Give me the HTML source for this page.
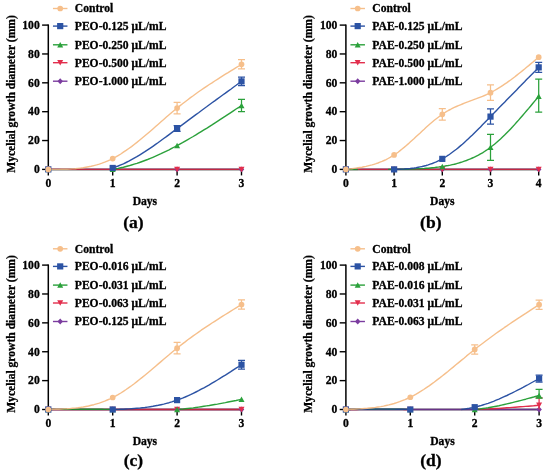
<!DOCTYPE html>
<html><head><meta charset="utf-8"><title>Mycelial growth</title>
<style>html,body{margin:0;padding:0;background:#fff}svg{display:block;font-family:"Liberation Serif",serif}</style>
</head><body>
<svg width="550" height="476" viewBox="0 0 550 476">
<rect width="550" height="476" fill="#fff"/>
<g stroke="#000" stroke-width="1.5" fill="none" stroke-linecap="butt">
<line x1="48.30" y1="24.40" x2="48.30" y2="170.15"/>
<line x1="47.55" y1="169.40" x2="242.20" y2="169.40"/>
</g>
<g stroke="#000" stroke-width="1.4" fill="none">
<line x1="42.10" y1="169.40" x2="48.30" y2="169.40"/>
<line x1="42.10" y1="140.54" x2="48.30" y2="140.54"/>
<line x1="42.10" y1="111.68" x2="48.30" y2="111.68"/>
<line x1="42.10" y1="82.82" x2="48.30" y2="82.82"/>
<line x1="42.10" y1="53.96" x2="48.30" y2="53.96"/>
<line x1="42.10" y1="25.10" x2="48.30" y2="25.10"/>
<line x1="48.30" y1="169.40" x2="48.30" y2="175.40"/>
<line x1="112.70" y1="169.40" x2="112.70" y2="175.40"/>
<line x1="177.10" y1="169.40" x2="177.10" y2="175.40"/>
<line x1="241.50" y1="169.40" x2="241.50" y2="175.40"/>
</g>
<g font-size="11.6" font-weight="bold" fill="#000" stroke="#000" stroke-width="0.3">
<text x="39.70" y="173.20" text-anchor="end">0</text>
<text x="39.70" y="144.34" text-anchor="end">20</text>
<text x="39.70" y="115.48" text-anchor="end">40</text>
<text x="39.70" y="86.62" text-anchor="end">60</text>
<text x="39.70" y="57.76" text-anchor="end">80</text>
<text x="39.70" y="28.90" text-anchor="end">100</text>
<text x="48.30" y="187.30" text-anchor="middle">0</text>
<text x="112.70" y="187.30" text-anchor="middle">1</text>
<text x="177.10" y="187.30" text-anchor="middle">2</text>
<text x="241.50" y="187.30" text-anchor="middle">3</text>
<text x="144.90" y="204.70" text-anchor="middle">Days</text>
<text transform="translate(14.70,93.95) rotate(-90)" text-anchor="middle">Mycelial growth diameter (mm)</text>
</g>
<text x="133.40" y="228.00" text-anchor="middle" font-size="17.5" font-weight="bold" stroke="#000" stroke-width="0.3">(a)</text>
<path d="M48.30,169.40 H241.50" fill="none" stroke="#7B3C9F" stroke-width="1.4"/>
<path d="M48.30,169.40 H241.50" fill="none" stroke="#E22E4D" stroke-width="1.4"/>
<path d="M112.7,169.4 L115.4,168.9 L118.1,168.4 L120.8,167.8 L123.4,167.2 L126.1,166.5 L128.8,165.8 L131.5,165.0 L134.2,164.2 L136.9,163.4 L139.5,162.5 L142.2,161.5 L144.9,160.5 L147.6,159.5 L150.3,158.4 L152.9,157.3 L155.6,156.1 L158.3,154.9 L161.0,153.7 L163.7,152.4 L166.4,151.1 L169.1,149.8 L171.7,148.4 L174.4,147.0 L177.1,145.6 L179.8,144.1 L182.5,142.7 L185.2,141.1 L187.8,139.6 L190.5,138.0 L193.2,136.5 L195.9,134.9 L198.6,133.2 L201.2,131.6 L203.9,129.9 L206.6,128.3 L209.3,126.6 L212.0,124.9 L214.7,123.1 L217.4,121.4 L220.0,119.7 L222.7,117.9 L225.4,116.2 L228.1,114.4 L230.8,112.6 L233.4,110.8 L236.1,109.0 L238.8,107.3 L241.5,105.5" fill="none" stroke="#2BA13B" stroke-width="1.4" stroke-linejoin="round"/>
<path d="M110.0,168.8 L112.7,168.0 L115.4,167.0 L118.1,166.0 L120.8,164.9 L123.4,163.8 L126.1,162.5 L128.8,161.2 L131.5,159.7 L134.2,158.2 L136.9,156.7 L139.5,155.1 L142.2,153.4 L144.9,151.7 L147.6,149.9 L150.3,148.1 L152.9,146.3 L155.6,144.4 L158.3,142.5 L161.0,140.5 L163.7,138.5 L166.4,136.6 L169.1,134.6 L171.7,132.6 L174.4,130.6 L177.1,128.6 L179.8,126.6 L182.5,124.6 L185.2,122.6 L187.8,120.6 L190.5,118.6 L193.2,116.6 L195.9,114.6 L198.6,112.7 L201.2,110.7 L203.9,108.7 L206.6,106.8 L209.3,104.8 L212.0,102.8 L214.7,100.9 L217.4,98.9 L220.0,97.0 L222.7,95.0 L225.4,93.1 L228.1,91.1 L230.8,89.2 L233.4,87.2 L236.1,85.3 L238.8,83.3 L241.5,81.4" fill="none" stroke="#2C53A4" stroke-width="1.4" stroke-linejoin="round"/>
<path d="M48.3,169.4 L51.0,169.4 L53.7,169.4 L56.3,169.4 L59.0,169.4 L61.7,169.3 L64.4,169.3 L67.1,169.2 L69.8,169.1 L72.5,168.9 L75.1,168.7 L77.8,168.4 L80.5,168.1 L83.2,167.8 L85.9,167.3 L88.5,166.8 L91.2,166.3 L93.9,165.6 L96.6,164.9 L99.3,164.1 L102.0,163.2 L104.7,162.2 L107.3,161.1 L110.0,159.9 L112.7,158.6 L115.4,157.2 L118.1,155.6 L120.8,154.0 L123.4,152.2 L126.1,150.4 L128.8,148.5 L131.5,146.6 L134.2,144.5 L136.9,142.4 L139.5,140.2 L142.2,138.0 L144.9,135.8 L147.6,133.5 L150.3,131.2 L152.9,128.9 L155.6,126.5 L158.3,124.2 L161.0,121.8 L163.7,119.5 L166.4,117.1 L169.1,114.8 L171.7,112.5 L174.4,110.3 L177.1,108.1 L179.8,105.9 L182.5,103.8 L185.2,101.7 L187.8,99.7 L190.5,97.6 L193.2,95.7 L195.9,93.7 L198.6,91.8 L201.2,90.0 L203.9,88.1 L206.6,86.3 L209.3,84.5 L212.0,82.8 L214.7,81.0 L217.4,79.3 L220.0,77.6 L222.7,75.9 L225.4,74.2 L228.1,72.6 L230.8,70.9 L233.4,69.3 L236.1,67.6 L238.8,66.0 L241.5,64.3" fill="none" stroke="#F6BF8B" stroke-width="1.4" stroke-linejoin="round"/>
<path d="M51.30,169.40 H241.50" stroke="#000" stroke-opacity="0.14" stroke-width="1.6" fill="none"/>
<polygon points="48.30,166.45 51.05,169.40 48.30,172.35 45.55,169.40" fill="#7B3C9F"/>
<polygon points="112.70,166.45 115.45,169.40 112.70,172.35 109.95,169.40" fill="#7B3C9F"/>
<polygon points="177.10,166.45 179.85,169.40 177.10,172.35 174.35,169.40" fill="#7B3C9F"/>
<polygon points="241.50,166.45 244.25,169.40 241.50,172.35 238.75,169.40" fill="#7B3C9F"/>
<polygon points="48.30,172.20 51.30,166.70 45.30,166.70" fill="#E22E4D"/>
<polygon points="112.70,172.20 115.70,166.70 109.70,166.70" fill="#E22E4D"/>
<polygon points="177.10,172.20 180.10,166.70 174.10,166.70" fill="#E22E4D"/>
<polygon points="241.50,172.20 244.50,166.70 238.50,166.70" fill="#E22E4D"/>
<path d="M241.50,99.41 V111.54 M238.00,99.41 h7 M238.00,111.54 h7" stroke="#2BA13B" stroke-width="1.25" fill="none"/>
<polygon points="48.30,166.60 51.30,172.10 45.30,172.10" fill="#2BA13B"/>
<polygon points="112.70,166.60 115.70,172.10 109.70,172.10" fill="#2BA13B"/>
<polygon points="177.10,142.79 180.10,148.29 174.10,148.29" fill="#2BA13B"/>
<polygon points="241.50,102.68 244.50,108.18 238.50,108.18" fill="#2BA13B"/>
<path d="M177.10,125.68 V131.45 M173.60,125.68 h7 M173.60,131.45 h7" stroke="#2C53A4" stroke-width="1.25" fill="none"/>
<path d="M241.50,77.05 V85.71 M238.00,77.05 h7 M238.00,85.71 h7" stroke="#2C53A4" stroke-width="1.25" fill="none"/>
<rect x="45.20" y="166.30" width="6.2" height="6.2" fill="#2C53A4"/>
<rect x="109.60" y="164.86" width="6.2" height="6.2" fill="#2C53A4"/>
<rect x="174.00" y="125.46" width="6.2" height="6.2" fill="#2C53A4"/>
<rect x="238.40" y="78.28" width="6.2" height="6.2" fill="#2C53A4"/>
<path d="M177.10,102.30 V113.84 M173.60,102.30 h7 M173.60,113.84 h7" stroke="#F6BF8B" stroke-width="1.25" fill="none"/>
<path d="M241.50,59.73 V68.97 M238.00,59.73 h7 M238.00,68.97 h7" stroke="#F6BF8B" stroke-width="1.25" fill="none"/>
<circle cx="48.30" cy="169.40" r="2.85" fill="#F6BF8B"/>
<circle cx="112.70" cy="158.58" r="2.85" fill="#F6BF8B"/>
<circle cx="177.10" cy="108.07" r="2.85" fill="#F6BF8B"/>
<circle cx="241.50" cy="64.35" r="2.85" fill="#F6BF8B"/>
<g font-size="11.6" font-weight="bold" fill="#000">
<line x1="52.95" y1="8.50" x2="67.45" y2="8.50" stroke="#F6BF8B" stroke-width="1.4"/>
<circle cx="60.20" cy="8.50" r="2.85" fill="#F6BF8B"/>
<text x="74.80" y="12.40" stroke="#000" stroke-width="0.3">Control</text>
<line x1="52.95" y1="26.10" x2="67.45" y2="26.10" stroke="#2C53A4" stroke-width="1.4"/>
<rect x="57.10" y="23.00" width="6.2" height="6.2" fill="#2C53A4"/>
<text x="74.80" y="30.00" stroke="#000" stroke-width="0.3">PEO-0.125 μL/mL</text>
<line x1="52.95" y1="44.80" x2="67.45" y2="44.80" stroke="#2BA13B" stroke-width="1.4"/>
<polygon points="60.20,42.00 63.20,47.50 57.20,47.50" fill="#2BA13B"/>
<text x="74.80" y="48.70" stroke="#000" stroke-width="0.3">PEO-0.250 μL/mL</text>
<line x1="52.95" y1="62.70" x2="67.45" y2="62.70" stroke="#E22E4D" stroke-width="1.4"/>
<polygon points="60.20,65.50 63.20,60.00 57.20,60.00" fill="#E22E4D"/>
<text x="74.80" y="66.60" stroke="#000" stroke-width="0.3">PEO-0.500 μL/mL</text>
<line x1="52.95" y1="81.20" x2="67.45" y2="81.20" stroke="#7B3C9F" stroke-width="1.4"/>
<polygon points="60.20,78.25 62.95,81.20 60.20,84.15 57.45,81.20" fill="#7B3C9F"/>
<text x="74.80" y="85.10" stroke="#000" stroke-width="0.3">PEO-1.000 μL/mL</text>
</g>
<g stroke="#000" stroke-width="1.5" fill="none" stroke-linecap="butt">
<line x1="345.90" y1="24.40" x2="345.90" y2="170.15"/>
<line x1="345.15" y1="169.40" x2="539.40" y2="169.40"/>
</g>
<g stroke="#000" stroke-width="1.4" fill="none">
<line x1="339.70" y1="169.40" x2="345.90" y2="169.40"/>
<line x1="339.70" y1="140.54" x2="345.90" y2="140.54"/>
<line x1="339.70" y1="111.68" x2="345.90" y2="111.68"/>
<line x1="339.70" y1="82.82" x2="345.90" y2="82.82"/>
<line x1="339.70" y1="53.96" x2="345.90" y2="53.96"/>
<line x1="339.70" y1="25.10" x2="345.90" y2="25.10"/>
<line x1="345.90" y1="169.40" x2="345.90" y2="175.40"/>
<line x1="394.10" y1="169.40" x2="394.10" y2="175.40"/>
<line x1="442.30" y1="169.40" x2="442.30" y2="175.40"/>
<line x1="490.50" y1="169.40" x2="490.50" y2="175.40"/>
<line x1="538.70" y1="169.40" x2="538.70" y2="175.40"/>
</g>
<g font-size="11.6" font-weight="bold" fill="#000" stroke="#000" stroke-width="0.3">
<text x="337.30" y="173.20" text-anchor="end">0</text>
<text x="337.30" y="144.34" text-anchor="end">20</text>
<text x="337.30" y="115.48" text-anchor="end">40</text>
<text x="337.30" y="86.62" text-anchor="end">60</text>
<text x="337.30" y="57.76" text-anchor="end">80</text>
<text x="337.30" y="28.90" text-anchor="end">100</text>
<text x="345.90" y="187.30" text-anchor="middle">0</text>
<text x="394.10" y="187.30" text-anchor="middle">1</text>
<text x="442.30" y="187.30" text-anchor="middle">2</text>
<text x="490.50" y="187.30" text-anchor="middle">3</text>
<text x="538.70" y="187.30" text-anchor="middle">4</text>
<text x="442.30" y="204.70" text-anchor="middle">Days</text>
<text transform="translate(312.30,93.95) rotate(-90)" text-anchor="middle">Mycelial growth diameter (mm)</text>
</g>
<text x="430.80" y="228.00" text-anchor="middle" font-size="17.5" font-weight="bold" stroke="#000" stroke-width="0.3">(b)</text>
<path d="M345.90,169.40 H538.70" fill="none" stroke="#7B3C9F" stroke-width="1.4"/>
<path d="M345.90,169.40 H538.70" fill="none" stroke="#E22E4D" stroke-width="1.4"/>
<path d="M345.9,169.4 L347.9,169.4 L349.9,169.4 L351.9,169.4 L353.9,169.4 L355.9,169.4 L357.9,169.4" fill="none" stroke="#2BA13B" stroke-width="1.4" stroke-linejoin="round"/>
<path d="M388.1,169.4 L390.1,169.4 L392.1,169.4 L394.1,169.4 L396.1,169.4 L398.1,169.4 L400.1,169.3 L402.1,169.3 L404.1,169.3 L406.1,169.2 L408.2,169.2 L410.2,169.1 L412.2,169.1 L414.2,169.0 L416.2,168.9 L418.2,168.8 L420.2,168.7 L422.2,168.6 L424.2,168.5 L426.2,168.3 L428.2,168.2 L430.2,168.0 L432.3,167.8 L434.3,167.6 L436.3,167.3 L438.3,167.1 L440.3,166.8 L442.3,166.5 L444.3,166.2 L446.3,165.8 L448.3,165.5 L450.3,165.1 L452.3,164.6 L454.3,164.2 L456.4,163.7 L458.4,163.1 L460.4,162.5 L462.4,161.9 L464.4,161.2 L466.4,160.5 L468.4,159.7 L470.4,158.9 L472.4,158.0 L474.4,157.1 L476.4,156.1 L478.4,155.1 L480.5,153.9 L482.5,152.8 L484.5,151.5 L486.5,150.2 L488.5,148.8 L490.5,147.3 L492.5,145.8 L494.5,144.2 L496.5,142.5 L498.5,140.7 L500.5,138.9 L502.5,137.0 L504.6,135.0 L506.6,133.0 L508.6,131.0 L510.6,128.9 L512.6,126.8 L514.6,124.6 L516.6,122.3 L518.6,120.1 L520.6,117.8 L522.6,115.5 L524.6,113.1 L526.6,110.8 L528.7,108.4 L530.7,106.0 L532.7,103.5 L534.7,101.1 L536.7,98.7 L538.7,96.2" fill="none" stroke="#2BA13B" stroke-width="1.4" stroke-linejoin="round"/>
<path d="M345.9,169.4 L347.9,169.4" fill="none" stroke="#2C53A4" stroke-width="1.4" stroke-linejoin="round"/>
<path d="M394.1,169.4 L396.1,169.3 L398.1,169.3 L400.1,169.2 L402.1,169.1 L404.1,169.0 L406.1,168.8 L408.2,168.7 L410.2,168.5 L412.2,168.2 L414.2,168.0 L416.2,167.7 L418.2,167.3 L420.2,166.9 L422.2,166.5 L424.2,166.0 L426.2,165.5 L428.2,164.9 L430.2,164.2 L432.3,163.5 L434.3,162.7 L436.3,161.9 L438.3,160.9 L440.3,159.9 L442.3,158.9 L444.3,157.7 L446.3,156.5 L448.3,155.2 L450.3,153.8 L452.3,152.3 L454.3,150.8 L456.4,149.2 L458.4,147.6 L460.4,145.9 L462.4,144.2 L464.4,142.4 L466.4,140.6 L468.4,138.7 L470.4,136.8 L472.4,134.9 L474.4,132.9 L476.4,130.9 L478.4,128.9 L480.5,126.9 L482.5,124.8 L484.5,122.8 L486.5,120.7 L488.5,118.7 L490.5,116.6 L492.5,114.5 L494.5,112.5 L496.5,110.4 L498.5,108.3 L500.5,106.3 L502.5,104.2 L504.6,102.2 L506.6,100.1 L508.6,98.0 L510.6,96.0 L512.6,93.9 L514.6,91.9 L516.6,89.9 L518.6,87.8 L520.6,85.8 L522.6,83.7 L524.6,81.7 L526.6,79.6 L528.7,77.6 L530.7,75.5 L532.7,73.5 L534.7,71.5 L536.7,69.4 L538.7,67.4" fill="none" stroke="#2C53A4" stroke-width="1.4" stroke-linejoin="round"/>
<path d="M345.9,169.4 L347.9,169.2 L349.9,168.9 L351.9,168.7 L353.9,168.4 L355.9,168.1 L357.9,167.8 L360.0,167.5 L362.0,167.2 L364.0,166.8 L366.0,166.4 L368.0,165.9 L370.0,165.4 L372.0,164.9 L374.0,164.3 L376.0,163.7 L378.0,163.0 L380.0,162.2 L382.0,161.4 L384.1,160.5 L386.1,159.6 L388.1,158.5 L390.1,157.4 L392.1,156.2 L394.1,155.0 L396.1,153.6 L398.1,152.2 L400.1,150.6 L402.1,149.0 L404.1,147.4 L406.1,145.7 L408.2,143.9 L410.2,142.1 L412.2,140.3 L414.2,138.5 L416.2,136.6 L418.2,134.7 L420.2,132.9 L422.2,131.0 L424.2,129.2 L426.2,127.3 L428.2,125.5 L430.2,123.8 L432.3,122.0 L434.3,120.3 L436.3,118.7 L438.3,117.2 L440.3,115.7 L442.3,114.3 L444.3,113.0 L446.3,111.7 L448.3,110.5 L450.3,109.5 L452.3,108.4 L454.3,107.4 L456.4,106.5 L458.4,105.6 L460.4,104.8 L462.4,104.0 L464.4,103.2 L466.4,102.4 L468.4,101.7 L470.4,100.9 L472.4,100.2 L474.4,99.4 L476.4,98.7 L478.4,97.9 L480.5,97.1 L482.5,96.3 L484.5,95.5 L486.5,94.6 L488.5,93.6 L490.5,92.6 L492.5,91.6 L494.5,90.5 L496.5,89.3 L498.5,88.1 L500.5,86.9 L502.5,85.6 L504.6,84.2 L506.6,82.9 L508.6,81.4 L510.6,80.0 L512.6,78.5 L514.6,77.0 L516.6,75.4 L518.6,73.8 L520.6,72.2 L522.6,70.6 L524.6,69.0 L526.6,67.3 L528.7,65.6 L530.7,63.9 L532.7,62.3 L534.7,60.6 L536.7,58.8 L538.7,57.1" fill="none" stroke="#F6BF8B" stroke-width="1.4" stroke-linejoin="round"/>
<path d="M348.90,169.40 H538.70" stroke="#000" stroke-opacity="0.14" stroke-width="1.6" fill="none"/>
<polygon points="345.90,166.45 348.65,169.40 345.90,172.35 343.15,169.40" fill="#7B3C9F"/>
<polygon points="394.10,166.45 396.85,169.40 394.10,172.35 391.35,169.40" fill="#7B3C9F"/>
<polygon points="442.30,166.45 445.05,169.40 442.30,172.35 439.55,169.40" fill="#7B3C9F"/>
<polygon points="490.50,166.45 493.25,169.40 490.50,172.35 487.75,169.40" fill="#7B3C9F"/>
<polygon points="538.70,166.45 541.45,169.40 538.70,172.35 535.95,169.40" fill="#7B3C9F"/>
<polygon points="345.90,172.20 348.90,166.70 342.90,166.70" fill="#E22E4D"/>
<polygon points="394.10,172.20 397.10,166.70 391.10,166.70" fill="#E22E4D"/>
<polygon points="442.30,172.20 445.30,166.70 439.30,166.70" fill="#E22E4D"/>
<polygon points="490.50,172.20 493.50,166.70 487.50,166.70" fill="#E22E4D"/>
<polygon points="538.70,172.20 541.70,166.70 535.70,166.70" fill="#E22E4D"/>
<path d="M490.50,134.34 V160.31 M487.00,134.34 h7 M487.00,160.31 h7" stroke="#2BA13B" stroke-width="1.25" fill="none"/>
<path d="M538.70,79.07 V112.11 M535.20,79.07 h7 M535.20,112.11 h7" stroke="#2BA13B" stroke-width="1.25" fill="none"/>
<polygon points="345.90,166.60 348.90,172.10 342.90,172.10" fill="#2BA13B"/>
<polygon points="394.10,166.60 397.10,172.10 391.10,172.10" fill="#2BA13B"/>
<polygon points="442.30,163.71 445.30,169.21 439.30,169.21" fill="#2BA13B"/>
<polygon points="490.50,144.52 493.50,150.02 487.50,150.02" fill="#2BA13B"/>
<polygon points="538.70,93.44 541.70,98.94 535.70,98.94" fill="#2BA13B"/>
<path d="M490.50,108.94 V124.23 M487.00,108.94 h7 M487.00,124.23 h7" stroke="#2C53A4" stroke-width="1.25" fill="none"/>
<path d="M538.70,62.33 V72.43 M535.20,62.33 h7 M535.20,72.43 h7" stroke="#2C53A4" stroke-width="1.25" fill="none"/>
<rect x="342.80" y="166.30" width="6.2" height="6.2" fill="#2C53A4"/>
<rect x="391.00" y="166.30" width="6.2" height="6.2" fill="#2C53A4"/>
<rect x="439.20" y="155.77" width="6.2" height="6.2" fill="#2C53A4"/>
<rect x="487.40" y="113.49" width="6.2" height="6.2" fill="#2C53A4"/>
<rect x="535.60" y="64.28" width="6.2" height="6.2" fill="#2C53A4"/>
<path d="M442.30,108.51 V120.05 M438.80,108.51 h7 M438.80,120.05 h7" stroke="#F6BF8B" stroke-width="1.25" fill="none"/>
<path d="M490.50,84.84 V100.42 M487.00,84.84 h7 M487.00,100.42 h7" stroke="#F6BF8B" stroke-width="1.25" fill="none"/>
<circle cx="345.90" cy="169.40" r="2.85" fill="#F6BF8B"/>
<circle cx="394.10" cy="154.97" r="2.85" fill="#F6BF8B"/>
<circle cx="442.30" cy="114.28" r="2.85" fill="#F6BF8B"/>
<circle cx="490.50" cy="92.63" r="2.85" fill="#F6BF8B"/>
<circle cx="538.70" cy="57.13" r="2.85" fill="#F6BF8B"/>
<g font-size="11.6" font-weight="bold" fill="#000">
<line x1="350.45" y1="8.50" x2="364.95" y2="8.50" stroke="#F6BF8B" stroke-width="1.4"/>
<circle cx="357.70" cy="8.50" r="2.85" fill="#F6BF8B"/>
<text x="372.30" y="12.40" stroke="#000" stroke-width="0.3">Control</text>
<line x1="350.45" y1="26.10" x2="364.95" y2="26.10" stroke="#2C53A4" stroke-width="1.4"/>
<rect x="354.60" y="23.00" width="6.2" height="6.2" fill="#2C53A4"/>
<text x="372.30" y="30.00" stroke="#000" stroke-width="0.3">PAE-0.125 μL/mL</text>
<line x1="350.45" y1="44.80" x2="364.95" y2="44.80" stroke="#2BA13B" stroke-width="1.4"/>
<polygon points="357.70,42.00 360.70,47.50 354.70,47.50" fill="#2BA13B"/>
<text x="372.30" y="48.70" stroke="#000" stroke-width="0.3">PAE-0.250 μL/mL</text>
<line x1="350.45" y1="62.70" x2="364.95" y2="62.70" stroke="#E22E4D" stroke-width="1.4"/>
<polygon points="357.70,65.50 360.70,60.00 354.70,60.00" fill="#E22E4D"/>
<text x="372.30" y="66.60" stroke="#000" stroke-width="0.3">PAE-0.500 μL/mL</text>
<line x1="350.45" y1="81.20" x2="364.95" y2="81.20" stroke="#7B3C9F" stroke-width="1.4"/>
<polygon points="357.70,78.25 360.45,81.20 357.70,84.15 354.95,81.20" fill="#7B3C9F"/>
<text x="372.30" y="85.10" stroke="#000" stroke-width="0.3">PAE-1.000 μL/mL</text>
</g>
<g stroke="#000" stroke-width="1.5" fill="none" stroke-linecap="butt">
<line x1="48.30" y1="264.40" x2="48.30" y2="410.25"/>
<line x1="47.55" y1="409.50" x2="242.20" y2="409.50"/>
</g>
<g stroke="#000" stroke-width="1.4" fill="none">
<line x1="42.10" y1="409.50" x2="48.30" y2="409.50"/>
<line x1="42.10" y1="380.62" x2="48.30" y2="380.62"/>
<line x1="42.10" y1="351.74" x2="48.30" y2="351.74"/>
<line x1="42.10" y1="322.86" x2="48.30" y2="322.86"/>
<line x1="42.10" y1="293.98" x2="48.30" y2="293.98"/>
<line x1="42.10" y1="265.10" x2="48.30" y2="265.10"/>
<line x1="48.30" y1="409.50" x2="48.30" y2="415.50"/>
<line x1="112.70" y1="409.50" x2="112.70" y2="415.50"/>
<line x1="177.10" y1="409.50" x2="177.10" y2="415.50"/>
<line x1="241.50" y1="409.50" x2="241.50" y2="415.50"/>
</g>
<g font-size="11.6" font-weight="bold" fill="#000" stroke="#000" stroke-width="0.3">
<text x="39.70" y="413.30" text-anchor="end">0</text>
<text x="39.70" y="384.42" text-anchor="end">20</text>
<text x="39.70" y="355.54" text-anchor="end">40</text>
<text x="39.70" y="326.66" text-anchor="end">60</text>
<text x="39.70" y="297.78" text-anchor="end">80</text>
<text x="39.70" y="268.90" text-anchor="end">100</text>
<text x="48.30" y="427.40" text-anchor="middle">0</text>
<text x="112.70" y="427.40" text-anchor="middle">1</text>
<text x="177.10" y="427.40" text-anchor="middle">2</text>
<text x="241.50" y="427.40" text-anchor="middle">3</text>
<text x="144.90" y="444.80" text-anchor="middle">Days</text>
<text transform="translate(14.70,334.00) rotate(-90)" text-anchor="middle">Mycelial growth diameter (mm)</text>
</g>
<text x="133.40" y="466.00" text-anchor="middle" font-size="17.5" font-weight="bold" stroke="#000" stroke-width="0.3">(c)</text>
<path d="M48.30,409.50 H241.50" fill="none" stroke="#7B3C9F" stroke-width="1.4"/>
<path d="M48.30,409.50 H241.50" fill="none" stroke="#E22E4D" stroke-width="1.4"/>
<path d="M48.3,409.5 L51.0,409.5 L53.7,409.4 L56.3,409.4 L59.0,409.4 L61.7,409.4 L64.4,409.3 L67.1,409.3 L69.8,409.3 L72.5,409.3 L75.1,409.3 L77.8,409.3 L80.5,409.2 L83.2,409.2 L85.9,409.2 L88.5,409.2 L91.2,409.3 L93.9,409.3 L96.6,409.3 L99.3,409.3 L102.0,409.3 L104.7,409.4 L107.3,409.4 L110.0,409.4 L112.7,409.5" fill="none" stroke="#2BA13B" stroke-width="1.4" stroke-linejoin="round"/>
<path d="M177.1,409.5 L179.8,409.3 L182.5,409.1 L185.2,408.8 L187.8,408.5 L190.5,408.2 L193.2,407.9 L195.9,407.5 L198.6,407.1 L201.2,406.7 L203.9,406.3 L206.6,405.9 L209.3,405.5 L212.0,405.0 L214.7,404.5 L217.4,404.1 L220.0,403.6 L222.7,403.1 L225.4,402.6 L228.1,402.0 L230.8,401.5 L233.4,401.0 L236.1,400.5 L238.8,399.9 L241.5,399.4" fill="none" stroke="#2BA13B" stroke-width="1.4" stroke-linejoin="round"/>
<path d="M48.3,409.5 L51.0,409.5" fill="none" stroke="#2C53A4" stroke-width="1.4" stroke-linejoin="round"/>
<path d="M112.7,409.5 L115.4,409.4 L118.1,409.4 L120.8,409.3 L123.4,409.2 L126.1,409.0 L128.8,408.9 L131.5,408.7 L134.2,408.5 L136.9,408.3 L139.5,408.1 L142.2,407.8 L144.9,407.5 L147.6,407.1 L150.3,406.7 L152.9,406.3 L155.6,405.8 L158.3,405.3 L161.0,404.7 L163.7,404.1 L166.4,403.4 L169.1,402.7 L171.7,401.9 L174.4,401.0 L177.1,400.1 L179.8,399.1 L182.5,398.1 L185.2,397.0 L187.8,395.8 L190.5,394.6 L193.2,393.3 L195.9,392.0 L198.6,390.7 L201.2,389.2 L203.9,387.8 L206.6,386.3 L209.3,384.8 L212.0,383.2 L214.7,381.6 L217.4,380.0 L220.0,378.4 L222.7,376.7 L225.4,375.1 L228.1,373.4 L230.8,371.7 L233.4,369.9 L236.1,368.2 L238.8,366.5 L241.5,364.7" fill="none" stroke="#2C53A4" stroke-width="1.4" stroke-linejoin="round"/>
<path d="M48.3,409.5 L51.0,409.4 L53.7,409.4 L56.3,409.3 L59.0,409.2 L61.7,409.1 L64.4,408.9 L67.1,408.8 L69.8,408.6 L72.5,408.3 L75.1,408.1 L77.8,407.8 L80.5,407.4 L83.2,407.0 L85.9,406.5 L88.5,406.0 L91.2,405.3 L93.9,404.7 L96.6,403.9 L99.3,403.1 L102.0,402.1 L104.7,401.1 L107.3,400.0 L110.0,398.8 L112.7,397.5 L115.4,396.1 L118.1,394.6 L120.8,393.0 L123.4,391.3 L126.1,389.5 L128.8,387.6 L131.5,385.7 L134.2,383.7 L136.9,381.6 L139.5,379.5 L142.2,377.4 L144.9,375.2 L147.6,373.0 L150.3,370.7 L152.9,368.5 L155.6,366.2 L158.3,363.9 L161.0,361.6 L163.7,359.3 L166.4,357.0 L169.1,354.8 L171.7,352.5 L174.4,350.3 L177.1,348.1 L179.8,346.0 L182.5,343.9 L185.2,341.9 L187.8,339.8 L190.5,337.9 L193.2,335.9 L195.9,334.0 L198.6,332.1 L201.2,330.2 L203.9,328.4 L206.6,326.6 L209.3,324.8 L212.0,323.0 L214.7,321.3 L217.4,319.6 L220.0,317.9 L222.7,316.2 L225.4,314.5 L228.1,312.8 L230.8,311.1 L233.4,309.5 L236.1,307.8 L238.8,306.2 L241.5,304.5" fill="none" stroke="#F6BF8B" stroke-width="1.4" stroke-linejoin="round"/>
<path d="M51.30,409.50 H241.50" stroke="#000" stroke-opacity="0.14" stroke-width="1.6" fill="none"/>
<polygon points="48.30,406.55 51.05,409.50 48.30,412.45 45.55,409.50" fill="#7B3C9F"/>
<polygon points="112.70,406.55 115.45,409.50 112.70,412.45 109.95,409.50" fill="#7B3C9F"/>
<polygon points="177.10,406.55 179.85,409.50 177.10,412.45 174.35,409.50" fill="#7B3C9F"/>
<polygon points="241.50,406.55 244.25,409.50 241.50,412.45 238.75,409.50" fill="#7B3C9F"/>
<polygon points="48.30,412.30 51.30,406.80 45.30,406.80" fill="#E22E4D"/>
<polygon points="112.70,412.30 115.70,406.80 109.70,406.80" fill="#E22E4D"/>
<polygon points="177.10,412.30 180.10,406.80 174.10,406.80" fill="#E22E4D"/>
<polygon points="241.50,412.30 244.50,406.80 238.50,406.80" fill="#E22E4D"/>
<polygon points="48.30,406.70 51.30,412.20 45.30,412.20" fill="#2BA13B"/>
<polygon points="112.70,406.70 115.70,412.20 109.70,412.20" fill="#2BA13B"/>
<polygon points="177.10,406.70 180.10,412.20 174.10,412.20" fill="#2BA13B"/>
<polygon points="241.50,396.59 244.50,402.09 238.50,402.09" fill="#2BA13B"/>
<path d="M241.50,360.40 V369.07 M238.00,360.40 h7 M238.00,369.07 h7" stroke="#2C53A4" stroke-width="1.25" fill="none"/>
<rect x="45.20" y="406.40" width="6.2" height="6.2" fill="#2C53A4"/>
<rect x="109.60" y="406.40" width="6.2" height="6.2" fill="#2C53A4"/>
<rect x="174.00" y="397.01" width="6.2" height="6.2" fill="#2C53A4"/>
<rect x="238.40" y="361.64" width="6.2" height="6.2" fill="#2C53A4"/>
<path d="M177.10,342.35 V353.91 M173.60,342.35 h7 M173.60,353.91 h7" stroke="#F6BF8B" stroke-width="1.25" fill="none"/>
<path d="M241.50,299.90 V309.14 M238.00,299.90 h7 M238.00,309.14 h7" stroke="#F6BF8B" stroke-width="1.25" fill="none"/>
<circle cx="48.30" cy="409.50" r="2.85" fill="#F6BF8B"/>
<circle cx="112.70" cy="397.51" r="2.85" fill="#F6BF8B"/>
<circle cx="177.10" cy="348.13" r="2.85" fill="#F6BF8B"/>
<circle cx="241.50" cy="304.52" r="2.85" fill="#F6BF8B"/>
<g font-size="11.6" font-weight="bold" fill="#000">
<line x1="52.95" y1="248.80" x2="67.45" y2="248.80" stroke="#F6BF8B" stroke-width="1.4"/>
<circle cx="60.20" cy="248.80" r="2.85" fill="#F6BF8B"/>
<text x="74.80" y="252.70" stroke="#000" stroke-width="0.3">Control</text>
<line x1="52.95" y1="266.40" x2="67.45" y2="266.40" stroke="#2C53A4" stroke-width="1.4"/>
<rect x="57.10" y="263.30" width="6.2" height="6.2" fill="#2C53A4"/>
<text x="74.80" y="270.30" stroke="#000" stroke-width="0.3">PEO-0.016 μL/mL</text>
<line x1="52.95" y1="285.10" x2="67.45" y2="285.10" stroke="#2BA13B" stroke-width="1.4"/>
<polygon points="60.20,282.30 63.20,287.80 57.20,287.80" fill="#2BA13B"/>
<text x="74.80" y="289.00" stroke="#000" stroke-width="0.3">PEO-0.031 μL/mL</text>
<line x1="52.95" y1="303.00" x2="67.45" y2="303.00" stroke="#E22E4D" stroke-width="1.4"/>
<polygon points="60.20,305.80 63.20,300.30 57.20,300.30" fill="#E22E4D"/>
<text x="74.80" y="306.90" stroke="#000" stroke-width="0.3">PEO-0.063 μL/mL</text>
<line x1="52.95" y1="321.50" x2="67.45" y2="321.50" stroke="#7B3C9F" stroke-width="1.4"/>
<polygon points="60.20,318.55 62.95,321.50 60.20,324.45 57.45,321.50" fill="#7B3C9F"/>
<text x="74.80" y="325.40" stroke="#000" stroke-width="0.3">PEO-0.125 μL/mL</text>
</g>
<g stroke="#000" stroke-width="1.5" fill="none" stroke-linecap="butt">
<line x1="345.90" y1="264.40" x2="345.90" y2="410.25"/>
<line x1="345.15" y1="409.50" x2="539.80" y2="409.50"/>
</g>
<g stroke="#000" stroke-width="1.4" fill="none">
<line x1="339.70" y1="409.50" x2="345.90" y2="409.50"/>
<line x1="339.70" y1="380.62" x2="345.90" y2="380.62"/>
<line x1="339.70" y1="351.74" x2="345.90" y2="351.74"/>
<line x1="339.70" y1="322.86" x2="345.90" y2="322.86"/>
<line x1="339.70" y1="293.98" x2="345.90" y2="293.98"/>
<line x1="339.70" y1="265.10" x2="345.90" y2="265.10"/>
<line x1="345.90" y1="409.50" x2="345.90" y2="415.50"/>
<line x1="410.30" y1="409.50" x2="410.30" y2="415.50"/>
<line x1="474.70" y1="409.50" x2="474.70" y2="415.50"/>
<line x1="539.10" y1="409.50" x2="539.10" y2="415.50"/>
</g>
<g font-size="11.6" font-weight="bold" fill="#000" stroke="#000" stroke-width="0.3">
<text x="337.30" y="413.30" text-anchor="end">0</text>
<text x="337.30" y="384.42" text-anchor="end">20</text>
<text x="337.30" y="355.54" text-anchor="end">40</text>
<text x="337.30" y="326.66" text-anchor="end">60</text>
<text x="337.30" y="297.78" text-anchor="end">80</text>
<text x="337.30" y="268.90" text-anchor="end">100</text>
<text x="345.90" y="427.40" text-anchor="middle">0</text>
<text x="410.30" y="427.40" text-anchor="middle">1</text>
<text x="474.70" y="427.40" text-anchor="middle">2</text>
<text x="539.10" y="427.40" text-anchor="middle">3</text>
<text x="442.50" y="444.80" text-anchor="middle">Days</text>
<text transform="translate(312.30,334.00) rotate(-90)" text-anchor="middle">Mycelial growth diameter (mm)</text>
</g>
<text x="431.00" y="466.00" text-anchor="middle" font-size="17.5" font-weight="bold" stroke="#000" stroke-width="0.3">(d)</text>
<path d="M345.90,409.50 H539.10" fill="none" stroke="#7B3C9F" stroke-width="1.4"/>
<path d="M345.9,409.5 L348.6,409.5 L351.3,409.5 L353.9,409.5 L356.6,409.5 L359.3,409.4 L362.0,409.4 L364.7,409.4 L367.4,409.4 L370.0,409.4 L372.7,409.4 L375.4,409.4 L378.1,409.4 L380.8,409.4 L383.5,409.4 L386.1,409.4 L388.8,409.4 L391.5,409.4 L394.2,409.4 L396.9,409.4 L399.6,409.4 L402.2,409.4 L404.9,409.5 L407.6,409.5 L410.3,409.5 L413.0,409.5" fill="none" stroke="#E22E4D" stroke-width="1.4" stroke-linejoin="round"/>
<path d="M474.7,409.5 L477.4,409.4 L480.1,409.3 L482.8,409.2 L485.4,409.1 L488.1,409.0 L490.8,408.8 L493.5,408.7 L496.2,408.5 L498.9,408.4 L501.5,408.2 L504.2,408.0 L506.9,407.8 L509.6,407.6 L512.3,407.4 L515.0,407.2 L517.6,407.0 L520.3,406.8 L523.0,406.6 L525.7,406.4 L528.4,406.2 L531.0,406.0 L533.7,405.8 L536.4,405.5 L539.1,405.3" fill="none" stroke="#E22E4D" stroke-width="1.4" stroke-linejoin="round"/>
<path d="M345.9,409.5 L348.6,409.5 L351.3,409.4 L353.9,409.4 L356.6,409.3 L359.3,409.3 L362.0,409.3 L364.7,409.3 L367.4,409.2 L370.0,409.2 L372.7,409.2 L375.4,409.2 L378.1,409.1 L380.8,409.1 L383.5,409.1 L386.1,409.1 L388.8,409.2 L391.5,409.2 L394.2,409.2 L396.9,409.2 L399.6,409.3 L402.2,409.3 L404.9,409.4 L407.6,409.4 L410.3,409.5" fill="none" stroke="#2BA13B" stroke-width="1.4" stroke-linejoin="round"/>
<path d="M474.7,409.5 L477.4,409.2 L480.1,408.9 L482.8,408.5 L485.4,408.1 L488.1,407.7 L490.8,407.2 L493.5,406.7 L496.2,406.2 L498.9,405.7 L501.5,405.1 L504.2,404.5 L506.9,403.9 L509.6,403.3 L512.3,402.6 L515.0,401.9 L517.6,401.3 L520.3,400.6 L523.0,399.9 L525.7,399.2 L528.4,398.4 L531.0,397.7 L533.7,397.0 L536.4,396.2 L539.1,395.5" fill="none" stroke="#2BA13B" stroke-width="1.4" stroke-linejoin="round"/>
<path d="M345.9,409.5 L348.6,409.5 L351.3,409.4 L353.9,409.4 L356.6,409.3 L359.3,409.3 L362.0,409.2 L364.7,409.2 L367.4,409.2 L370.0,409.1 L372.7,409.1 L375.4,409.1 L378.1,409.1 L380.8,409.1 L383.5,409.1 L386.1,409.1 L388.8,409.1 L391.5,409.1 L394.2,409.1 L396.9,409.2 L399.6,409.2 L402.2,409.3 L404.9,409.3 L407.6,409.4 L410.3,409.5" fill="none" stroke="#2C53A4" stroke-width="1.4" stroke-linejoin="round"/>
<path d="M461.3,409.5 L464.0,409.1 L466.6,408.7 L469.3,408.3 L472.0,407.8 L474.7,407.2 L477.4,406.5 L480.1,405.8 L482.8,405.0 L485.4,404.2 L488.1,403.3 L490.8,402.3 L493.5,401.3 L496.2,400.2 L498.9,399.1 L501.5,397.9 L504.2,396.7 L506.9,395.5 L509.6,394.2 L512.3,392.9 L515.0,391.5 L517.6,390.2 L520.3,388.8 L523.0,387.4 L525.7,385.9 L528.4,384.5 L531.0,383.0 L533.7,381.5 L536.4,380.1 L539.1,378.6" fill="none" stroke="#2C53A4" stroke-width="1.4" stroke-linejoin="round"/>
<path d="M345.9,409.5 L348.6,409.4 L351.3,409.3 L353.9,409.2 L356.6,409.0 L359.3,408.9 L362.0,408.7 L364.7,408.5 L367.4,408.3 L370.0,408.0 L372.7,407.7 L375.4,407.4 L378.1,407.0 L380.8,406.6 L383.5,406.1 L386.1,405.5 L388.8,404.9 L391.5,404.2 L394.2,403.5 L396.9,402.6 L399.6,401.7 L402.2,400.7 L404.9,399.7 L407.6,398.5 L410.3,397.2 L413.0,395.9 L415.7,394.4 L418.3,392.8 L421.0,391.2 L423.7,389.5 L426.4,387.7 L429.1,385.9 L431.8,383.9 L434.4,382.0 L437.1,379.9 L439.8,377.9 L442.5,375.8 L445.2,373.6 L447.9,371.5 L450.5,369.3 L453.2,367.1 L455.9,364.8 L458.6,362.6 L461.3,360.4 L464.0,358.2 L466.6,355.9 L469.3,353.7 L472.0,351.6 L474.7,349.4 L477.4,347.3 L480.1,345.2 L482.8,343.2 L485.4,341.2 L488.1,339.2 L490.8,337.2 L493.5,335.3 L496.2,333.3 L498.9,331.4 L501.5,329.6 L504.2,327.7 L506.9,325.9 L509.6,324.0 L512.3,322.2 L515.0,320.4 L517.6,318.6 L520.3,316.9 L523.0,315.1 L525.7,313.4 L528.4,311.6 L531.0,309.9 L533.7,308.1 L536.4,306.4 L539.1,304.7" fill="none" stroke="#F6BF8B" stroke-width="1.4" stroke-linejoin="round"/>
<path d="M348.90,409.50 H539.10" stroke="#000" stroke-opacity="0.14" stroke-width="1.6" fill="none"/>
<polygon points="345.90,406.55 348.65,409.50 345.90,412.45 343.15,409.50" fill="#7B3C9F"/>
<polygon points="410.30,406.55 413.05,409.50 410.30,412.45 407.55,409.50" fill="#7B3C9F"/>
<polygon points="474.70,406.55 477.45,409.50 474.70,412.45 471.95,409.50" fill="#7B3C9F"/>
<polygon points="539.10,406.55 541.85,409.50 539.10,412.45 536.35,409.50" fill="#7B3C9F"/>
<path d="M539.10,397.95 V409.50 M535.60,397.95 h7" stroke="#E22E4D" stroke-width="1.25" fill="none"/>
<polygon points="345.90,412.30 348.90,406.80 342.90,406.80" fill="#E22E4D"/>
<polygon points="410.30,412.30 413.30,406.80 407.30,406.80" fill="#E22E4D"/>
<polygon points="474.70,412.30 477.70,406.80 471.70,406.80" fill="#E22E4D"/>
<polygon points="539.10,408.11 542.10,402.61 536.10,402.61" fill="#E22E4D"/>
<path d="M539.10,389.43 V398.24 M535.60,389.43 h7 M535.60,398.24 h7" stroke="#2BA13B" stroke-width="1.25" fill="none"/>
<polygon points="345.90,406.70 348.90,412.20 342.90,412.20" fill="#2BA13B"/>
<polygon points="410.30,406.70 413.30,412.20 407.30,412.20" fill="#2BA13B"/>
<polygon points="474.70,406.70 477.70,412.20 471.70,412.20" fill="#2BA13B"/>
<polygon points="539.10,392.69 542.10,398.19 536.10,398.19" fill="#2BA13B"/>
<path d="M539.10,375.13 V382.06 M535.60,375.13 h7 M535.60,382.06 h7" stroke="#2C53A4" stroke-width="1.25" fill="none"/>
<rect x="342.80" y="406.40" width="6.2" height="6.2" fill="#2C53A4"/>
<rect x="407.20" y="406.40" width="6.2" height="6.2" fill="#2C53A4"/>
<rect x="471.60" y="404.09" width="6.2" height="6.2" fill="#2C53A4"/>
<rect x="536.00" y="375.50" width="6.2" height="6.2" fill="#2C53A4"/>
<path d="M474.70,344.81 V354.05 M471.20,344.81 h7 M471.20,354.05 h7" stroke="#F6BF8B" stroke-width="1.25" fill="none"/>
<path d="M539.10,300.04 V309.29 M535.60,300.04 h7 M535.60,309.29 h7" stroke="#F6BF8B" stroke-width="1.25" fill="none"/>
<circle cx="345.90" cy="409.50" r="2.85" fill="#F6BF8B"/>
<circle cx="410.30" cy="397.23" r="2.85" fill="#F6BF8B"/>
<circle cx="474.70" cy="349.43" r="2.85" fill="#F6BF8B"/>
<circle cx="539.10" cy="304.67" r="2.85" fill="#F6BF8B"/>
<g font-size="11.6" font-weight="bold" fill="#000">
<line x1="350.45" y1="248.80" x2="364.95" y2="248.80" stroke="#F6BF8B" stroke-width="1.4"/>
<circle cx="357.70" cy="248.80" r="2.85" fill="#F6BF8B"/>
<text x="372.30" y="252.70" stroke="#000" stroke-width="0.3">Control</text>
<line x1="350.45" y1="266.40" x2="364.95" y2="266.40" stroke="#2C53A4" stroke-width="1.4"/>
<rect x="354.60" y="263.30" width="6.2" height="6.2" fill="#2C53A4"/>
<text x="372.30" y="270.30" stroke="#000" stroke-width="0.3">PAE-0.008 μL/mL</text>
<line x1="350.45" y1="285.10" x2="364.95" y2="285.10" stroke="#2BA13B" stroke-width="1.4"/>
<polygon points="357.70,282.30 360.70,287.80 354.70,287.80" fill="#2BA13B"/>
<text x="372.30" y="289.00" stroke="#000" stroke-width="0.3">PAE-0.016 μL/mL</text>
<line x1="350.45" y1="303.00" x2="364.95" y2="303.00" stroke="#E22E4D" stroke-width="1.4"/>
<polygon points="357.70,305.80 360.70,300.30 354.70,300.30" fill="#E22E4D"/>
<text x="372.30" y="306.90" stroke="#000" stroke-width="0.3">PAE-0.031 μL/mL</text>
<line x1="350.45" y1="321.50" x2="364.95" y2="321.50" stroke="#7B3C9F" stroke-width="1.4"/>
<polygon points="357.70,318.55 360.45,321.50 357.70,324.45 354.95,321.50" fill="#7B3C9F"/>
<text x="372.30" y="325.40" stroke="#000" stroke-width="0.3">PAE-0.063 μL/mL</text>
</g>
</svg>
</body></html>
